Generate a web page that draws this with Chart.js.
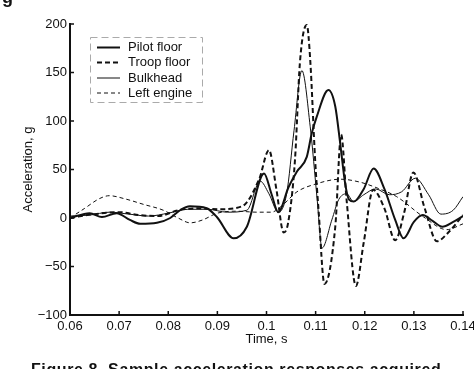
<!DOCTYPE html>
<html>
<head>
  <title>Sample acceleration responses</title>
  <meta charset="utf-8">
  <script src="https://cdn.jsdelivr.net/npm/chart.js@4.4.0/dist/chart.umd.min.js"></script>
  <style>
    html, body { margin: 0; padding: 0; background: #fff; overflow: hidden; }
    #wrap { position: relative; width: 474px; height: 369px; overflow: hidden; }
    #caption { position: absolute; left: 31px; top: 361px; font: bold 16px "Liberation Sans", Arial, sans-serif; letter-spacing: 0.6px; color: #111; white-space: nowrap; }
    #prev { position: absolute; left: 2px; top: -13px; font: bold 18px "Liberation Sans", Arial, sans-serif; color: #111; }
  </style>
</head>
<body>
<div id="wrap">
  <canvas id="myChart" width="474" height="369"></canvas>
  <div id="prev">g</div>
  <div id="caption">Figure 8. Sample acceleration responses acquired</div>
</div>
<script>
  // values (time in s, acceleration in g)
  var seriesNames = ['Pilot floor', 'Troop floor', 'Bulkhead', 'Left engine'];

  var pilotTime = [0.060, 0.064, 0.0665, 0.0695, 0.0722, 0.0743, 0.0777, 0.0804, 0.0824, 0.0844, 0.0878, 0.0899, 0.0933, 0.0960, 0.0995, 0.1010, 0.1024, 0.1045, 0.1062, 0.1082, 0.1092, 0.1102, 0.1126, 0.1140, 0.1150, 0.1160, 0.1168, 0.1178, 0.1198, 0.1218, 0.1240, 0.1262, 0.1279, 0.1300, 0.1318, 0.1338, 0.1358, 0.1380, 0.1400];
  var pilotAccel = [0, 5, 1, 5, -2, -6, -5, 0, 8, 12, 10, 1, -21, -9, 46, 25, 6, 32, 48, 63, 87, 104, 132, 115, 77, 36, 19, 17, 30, 51, 30, -2, -21, -4, 3, -3, -9, -4, 2];

  var troopTime = [0.060, 0.065, 0.070, 0.074, 0.078, 0.082, 0.086, 0.090, 0.095, 0.0985, 0.1005, 0.1020, 0.1035, 0.1044, 0.1058, 0.1068, 0.1082, 0.1089, 0.1099, 0.1106, 0.1118, 0.1140, 0.1152, 0.1163, 0.1182, 0.1198, 0.1217, 0.1240, 0.1262, 0.1280, 0.1299, 0.1322, 0.1347, 0.1370, 0.1400];
  var troopAccel = [0, 4, 6, 3, 2, 8, 10, 9, 12, 40, 70, 30, -15, -5, 60, 160, 199, 163, 60, 8, -68, -9, 86, 19, -70, -25, 29, 10, -23, 5, 47, 10, -24, -15, 3];

  var bulkTime = [0.060, 0.064, 0.068, 0.072, 0.076, 0.080, 0.084, 0.088, 0.092, 0.096, 0.0987, 0.1005, 0.1024, 0.1041, 0.1056, 0.1072, 0.1089, 0.1103, 0.1113, 0.1133, 0.1147, 0.1163, 0.1177, 0.1198, 0.1222, 0.1250, 0.1275, 0.1303, 0.1330, 0.1355, 0.1380, 0.1400];
  var bulkAccel = [2, 3, 6, 4, 2, 5, 9, 9, 6, 8, 38, 25, 6, 25, 90, 152, 94, 20, -31, -2, 19, 25, 17, 24, 30, 24, 27, 41, 24, 4, 8, 22];

  var engineTime = [0.060, 0.063, 0.066, 0.068, 0.071, 0.075, 0.079, 0.082, 0.0845, 0.087, 0.090, 0.094, 0.098, 0.101, 0.103, 0.1062, 0.110, 0.115, 0.119, 0.123, 0.1265, 0.132, 0.1367, 0.140];
  var engineAccel = [0, 10, 20, 23, 20, 14, 8, 0, -5, -2, 5, 7, 6, 6, 12, 27, 35, 40, 37, 30, 22, 1, -12, -6];

  var timeTicks = [0.06, 0.07, 0.08, 0.09, 0.1, 0.11, 0.12, 0.13, 0.14];
  var accelTicks = [-100, -50, 0, 50, 100, 150, 200];

  function pts(ts, vs) {
    return ts.map(function(t, i) { return {x: t, y: vs[i]}; });
  }

  var ink = '#111';
  var fontFam = '"Liberation Sans", Arial, sans-serif';

  // inward tick marks plus the legend box inside the plot
  var extras = {
    id: 'extras',
    afterDraw: function(chart) {
      var ctx = chart.ctx;
      var xs = chart.scales.x, ys = chart.scales.y;
      var a = chart.chartArea;
      ctx.save();
      ctx.strokeStyle = ink;
      ctx.lineWidth = 1.5;
      ctx.beginPath();
      timeTicks.forEach(function(t) {
        var px = xs.getPixelForValue(t);
        ctx.moveTo(px, a.bottom);
        ctx.lineTo(px, a.bottom - 4);
      });
      accelTicks.forEach(function(v) {
        var py = ys.getPixelForValue(v);
        ctx.moveTo(a.left, py);
        ctx.lineTo(a.left + 4, py);
      });
      ctx.stroke();

      // legend
      ctx.strokeStyle = '#aaa';
      ctx.lineWidth = 1;
      ctx.setLineDash([7, 4]);
      ctx.strokeRect(90.5, 37.5, 112, 65);
      var rows = [47.5, 62.5, 78, 93];
      chart.data.datasets.forEach(function(ds, i) {
        ctx.strokeStyle = ink;
        ctx.lineWidth = ds.borderWidth;
        ctx.setLineDash(ds.borderDash || []);
        ctx.beginPath();
        ctx.moveTo(97, rows[i]);
        ctx.lineTo(120, rows[i]);
        ctx.stroke();
        ctx.setLineDash([]);
        ctx.fillStyle = ink;
        ctx.font = '13px ' + fontFam;
        ctx.textBaseline = 'middle';
        ctx.fillText(ds.label, 128, rows[i]);
      });
      ctx.restore();
    }
  };

  var ctx = document.getElementById('myChart').getContext('2d');
  var chart = new Chart(ctx, {
    type: 'line',
    data: {
      datasets: [{
        label: seriesNames[0],
        data: pts(pilotTime, pilotAccel),
        borderColor: ink,
        borderWidth: 2,
        borderDash: []
      }, {
        label: seriesNames[1],
        data: pts(troopTime, troopAccel),
        borderColor: ink,
        borderWidth: 2,
        borderDash: [5, 3]
      }, {
        label: seriesNames[2],
        data: pts(bulkTime, bulkAccel),
        borderColor: ink,
        borderWidth: 1,
        borderDash: []
      }, {
        label: seriesNames[3],
        data: pts(engineTime, engineAccel),
        borderColor: ink,
        borderWidth: 1,
        borderDash: [4, 3]
      }]
    },
    options: {
      responsive: false,
      animation: false,
      datasets: {
        line: {
          pointRadius: 0,
          fill: false,
          backgroundColor: 'transparent',
          cubicInterpolationMode: 'monotone'
        }
      },
      layout: { padding: { top: 24, right: 11, left: 0, bottom: 0 } },
      scales: {
        x: {
          type: 'linear',
          min: 0.06,
          max: 0.14,
          afterBuildTicks: function(s) {
            s.ticks = timeTicks.map(function(v) { return {value: v}; });
          },
          ticks: {
            color: ink,
            font: { family: fontFam, size: 13 },
            padding: 4,
            maxRotation: 0,
            autoSkip: false,
            callback: function(v) { return String(parseFloat(v.toFixed(2))); }
          },
          grid: { drawOnChartArea: false, drawTicks: false },
          border: { color: ink, width: 2 },
          title: {
            display: true,
            text: 'Time, s',
            color: ink,
            font: { family: fontFam, size: 13 },
            padding: { top: 0, bottom: 22 }
          },
          afterFit: function(s) {
            s.height = 54;
            s.paddingLeft = 0;
            s.paddingRight = 0;
          }
        },
        y: {
          type: 'linear',
          min: -100,
          max: 200,
          afterBuildTicks: function(s) {
            s.ticks = accelTicks.map(function(v) { return {value: v}; });
          },
          ticks: {
            color: ink,
            font: { family: fontFam, size: 13 },
            padding: 3,
            callback: function(v) { return String(v).replace('-', '\u2212'); }
          },
          grid: { drawOnChartArea: false, drawTicks: false },
          border: { color: ink, width: 2 },
          title: {
            display: true,
            text: 'Acceleration, g',
            color: ink,
            font: { family: fontFam, size: 13 },
            padding: { top: 21, bottom: 0 }
          },
          afterFit: function(s) {
            s.width = 70;
            s.paddingTop = 0;
            s.paddingBottom = 0;
          }
        }
      },
      plugins: {
        legend: { display: false },
        tooltip: { enabled: false },
        colors: { enabled: false }
      }
    },
    plugins: [extras]
  });
</script>
</body>
</html>
